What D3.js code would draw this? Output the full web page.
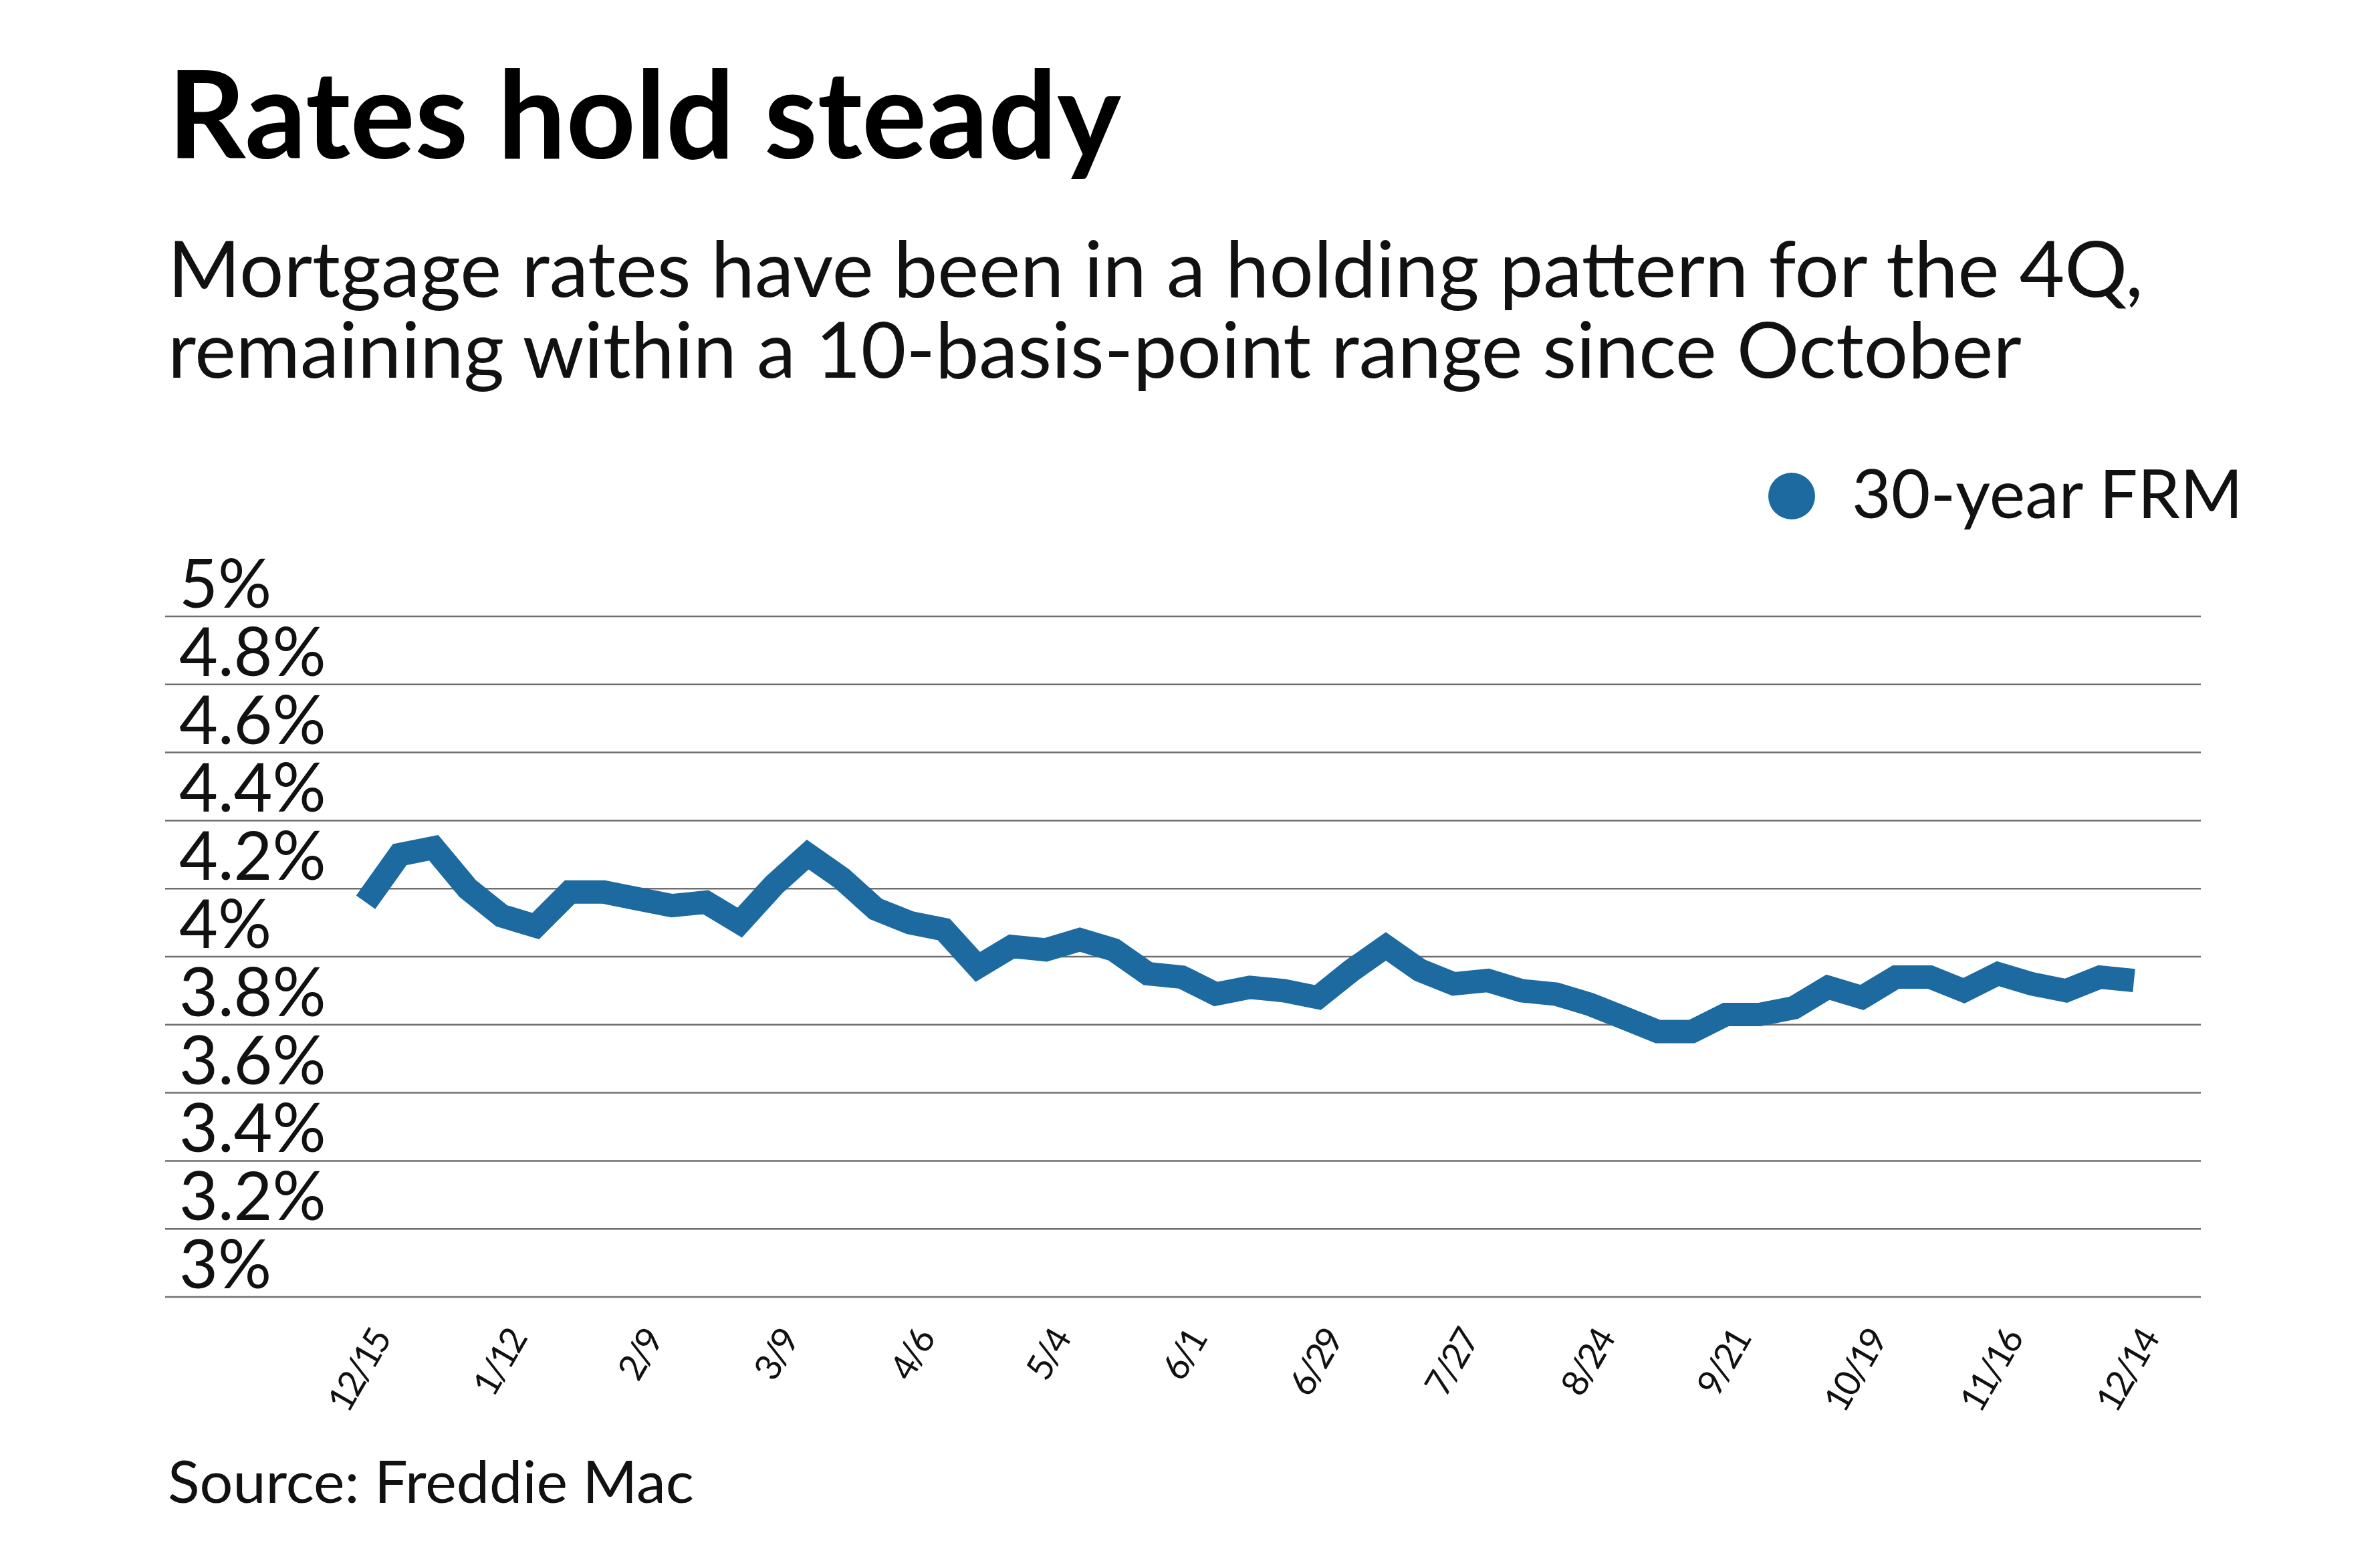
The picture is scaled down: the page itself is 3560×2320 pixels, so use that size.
<!DOCTYPE html>
<html>
<head>
<meta charset="utf-8">
<script src="https://cdn.jsdelivr.net/npm/d3@7"></script>
<style>
  html, body { margin: 0; padding: 0; background: #fff; }
  svg { display: block; font-family: Lato, "Open Sans", sans-serif; }
</style>
</head>
<body>
<svg id="chart" width="3560" height="2320"></svg>
<script>

// weekly Freddie Mac 30-year FRM, 12/15 through 12/14
var weeks = [
    '12/15', '12/22', '12/29', '1/5', '1/12', '1/19', '1/26', '2/2', '2/9',
    '2/16', '2/23', '3/2', '3/9', '3/16', '3/23', '3/30', '4/6', '4/13',
    '4/20', '4/27', '5/4', '5/11', '5/18', '5/25', '6/1', '6/8', '6/15',
    '6/22', '6/29', '7/6', '7/13', '7/20', '7/27', '8/3', '8/10', '8/17',
    '8/24', '8/31', '9/7', '9/14', '9/21', '9/28', '10/5', '10/12', '10/19',
    '10/26', '11/2', '11/9', '11/16', '11/23', '11/30', '12/7', '12/14'
];

var rate30 = [
    4.16, 4.30, 4.32, 4.20, 4.12, 4.09, 4.19, 4.19, 4.17,
    4.15, 4.16, 4.10, 4.21, 4.30, 4.23, 4.14, 4.10, 4.08,
    3.97, 4.03, 4.02, 4.05, 4.02, 3.95, 3.94, 3.89, 3.91,
    3.90, 3.88, 3.96, 4.03, 3.96, 3.92, 3.93, 3.90, 3.89,
    3.86, 3.82, 3.78, 3.78, 3.83, 3.83, 3.85, 3.91, 3.88,
    3.94, 3.94, 3.90, 3.95, 3.92, 3.90, 3.94, 3.93
];

var yTicks = [3, 3.2, 3.4, 3.6, 3.8, 4, 4.2, 4.4, 4.6, 4.8, 5];

var xTickLabels = ['12/15', '1/12', '2/9', '3/9', '4/6', '5/4', '6/1',
    '6/29', '7/27', '8/24', '9/21', '10/19', '11/16', '12/14'];

var seriesName = '30-year FRM';

var lineColor = '#1c6aa0';

var svg = d3.select('#chart');

svg.append('rect')
    .attr('width', 3560)
    .attr('height', 2320)
    .attr('fill', '#fff');

// scale a text element's font so it spans the given width
var fitText = function(sel, width) {
    var node = sel.node();
    var size = parseFloat(sel.attr('font-size'));
    var len = node.getComputedTextLength();
    if (len > 0) {
        sel.attr('font-size', size * width / len);
    }
    return sel;
};

var x = d3.scalePoint()
    .domain(weeks)
    .range([547, 3192]);

var y = d3.scaleLinear()
    .domain([3, 5])
    .range([1940, 922]);

var gridLeft = 247,
    gridRight = 3292;

// gridlines
svg.append('g')
    .attr('class', 'grid')
    .selectAll('line')
    .data(yTicks)
    .enter()
        .append('line')
        .attr('x1', gridLeft)
        .attr('x2', gridRight)
        .attr('y1', function(d) { return y(d) })
        .attr('y2', function(d) { return y(d) })
        .attr('stroke', '#6e6e6e')
        .attr('stroke-width', 2.5);

// y labels sit on top of each gridline
svg.append('g')
    .attr('class', 'yLabels')
    .selectAll('text')
    .data(yTicks)
    .enter()
        .append('text')
        .attr('x', 268)
        .attr('y', function(d) { return y(d) - 13 })
        .attr('font-size', 100)
        .attr('fill', '#111')
        .text(function(d) { return d3.format('~g')(d) + '%' });

// the line
var line = d3.line()
    .x(function(d, i) { return x(weeks[i]) })
    .y(function(d) { return y(d) });

svg.append('path')
    .datum(rate30)
    .attr('d', line)
    .attr('fill', 'none')
    .attr('stroke', lineColor)
    .attr('stroke-width', 35)
    .attr('stroke-linejoin', 'miter')
    .attr('stroke-miterlimit', 10)
    .attr('stroke-linecap', 'butt');

// x labels, rotated
svg.append('g')
    .attr('class', 'xLabels')
    .selectAll('text')
    .data(xTickLabels)
    .enter()
        .append('text')
        .attr('transform', function(d) {
            return 'translate(' + (x(d) + 22) + ',1994) rotate(-60)';
        })
        .attr('text-anchor', 'end')
        .attr('dy', '0.35em')
        .attr('font-size', 54)
        .attr('letter-spacing', -4)
        .attr('fill', '#111')
        .text(function(d) { return d });

// legend
svg.append('circle')
    .attr('cx', 2680)
    .attr('cy', 742)
    .attr('r', 35)
    .attr('fill', lineColor);

fitText(
    svg.append('text')
        .attr('x', 2770)
        .attr('y', 775)
        .attr('font-size', 100)
        .attr('fill', '#111')
        .text(seriesName),
    585
);

// titles
fitText(
    svg.append('text')
        .attr('x', 251)
        .attr('y', 237)
        .attr('font-size', 165)
        .attr('font-weight', 700)
        .attr('fill', '#000')
        .text('Rates hold steady'),
    1426
);

fitText(
    svg.append('text')
        .attr('x', 251)
        .attr('y', 444)
        .attr('font-size', 106)
        .attr('fill', '#111')
        .text('Mortgage rates have been in a holding pattern for the 4Q,'),
    2955
);

fitText(
    svg.append('text')
        .attr('x', 251)
        .attr('y', 565)
        .attr('font-size', 106)
        .attr('fill', '#111')
        .text('remaining within a 10-basis-point range since October'),
    2773
);

fitText(
    svg.append('text')
        .attr('x', 251)
        .attr('y', 2248)
        .attr('font-size', 80)
        .attr('fill', '#111')
        .text('Source: Freddie Mac'),
    787
);

</script>
</body>
</html>
